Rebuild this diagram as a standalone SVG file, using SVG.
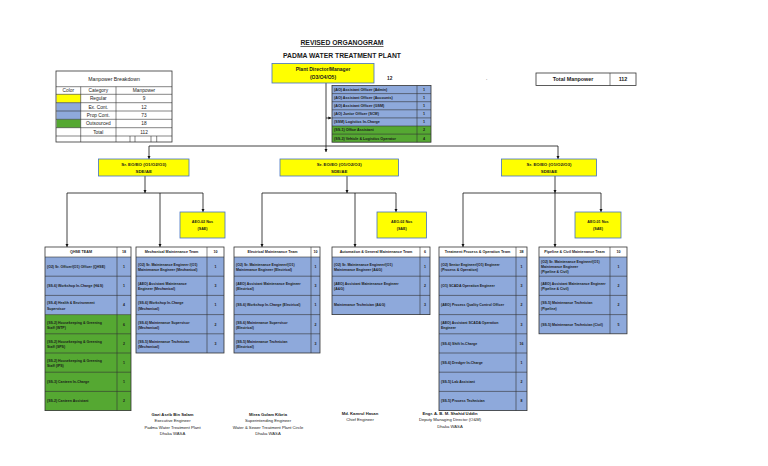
<svg xmlns="http://www.w3.org/2000/svg" width="768" height="466" viewBox="0 0 768 466">
<defs>
<style>
text{font-family:"Liberation Sans",Arial,sans-serif;fill:#1a1a1a}
.t{font-size:3.5px;font-weight:bold}
.h{font-size:3.7px;font-weight:bold}
.a{font-size:3.7px;font-weight:bold}
.m{font-size:4.8px}
.s{font-size:4.2px}
.sb{font-size:4.2px;font-weight:bold}
.se{font-size:4.4px;font-weight:bold}
.c{text-anchor:middle}
.ln{stroke:#111;stroke-width:0.8;fill:none}
.ar{marker-end:url(#ah)}
.y{fill:#FFFF00;stroke:#4472C4;stroke-width:0.8}
.b{fill:#8EA9DB}
.g{fill:#55A832}
.w{fill:#fff}
.fr{fill:none;stroke:#333;stroke-width:0.8}
.gl{stroke:#333;stroke-width:0.6;fill:none}
</style>
<marker id="ah" viewBox="0 0 6 6" refX="6" refY="3" markerWidth="3.2" markerHeight="3.2" markerUnits="userSpaceOnUse" orient="auto"><path d="M0,0L6,3L0,6z" fill="#111"/></marker>
</defs>
<rect width="768" height="466" fill="#fff"/>

<g id="title">
<text x="342" y="45" class="c" style="font-size:6.8px;font-weight:bold;text-decoration:underline">REVISED ORGANOGRAM</text>
<text x="342" y="58" class="c" style="font-size:6.8px;font-weight:bold">PADMA WATER TREATMENT PLANT</text>
<text x="387" y="79.5" style="font-size:4.8px;font-weight:bold">12</text>
<text x="486" y="79.5" style="font-size:4.8px">.</text>
</g>

<g id="connectors">
<path class="ln ar" d="M326,83V152"/>
<path class="ln ar" d="M326,118H331.5"/>
<path class="ln" d="M149,146H558"/>
<path class="ln ar" d="M149,146V159"/>
<path class="ln ar" d="M558,146V159"/>
<path class="ln ar" d="M145,176V193"/>
<path class="ln" d="M67,193H203"/>
<path class="ln ar" d="M67,193V247"/>
<path class="ln ar" d="M160,193V247"/>
<path class="ln ar" d="M203,193V212"/>
<path class="ln ar" d="M347,176V193"/>
<path class="ln" d="M262,193H396"/>
<path class="ln ar" d="M262,193V247"/>
<path class="ln ar" d="M355,193V247"/>
<path class="ln ar" d="M396,193V212"/>
<path class="ln ar" d="M555,176V193"/>
<path class="ln" d="M463,193H601"/>
<path class="ln ar" d="M463,193V247"/>
<path class="ln ar" d="M555,193V247"/>
<path class="ln ar" d="M601,193V212"/>
</g>

<g id="director">
<rect x="272" y="63.5" width="102" height="19.5" class="y"/>
<text x="323" y="71" class="c" style="font-size:5px;font-weight:bold">Plant Director/Manager</text>
<text x="323" y="79" class="c" style="font-size:5px;font-weight:bold">(O3/O4/O5)</text>
</g>

<g id="manpower-breakdown">
<rect x="56" y="71" width="116" height="71" class="w"/>
<rect x="56.5" y="94.3" width="24.2" height="8.4" fill="#FFFF00"/>
<rect x="56.5" y="102.7" width="24.2" height="8.3" class="b"/>
<rect x="56.5" y="111" width="24.2" height="8.3" class="b"/>
<rect x="56.5" y="119.3" width="24.2" height="8.4" class="g"/>
<rect x="56" y="71" width="116" height="71" class="fr"/>
<path class="gl" d="M56,86.7H172M56,94.3H172M56,102.7H172M56,111H172M56,119.3H172M56,127.7H172M56,136H172M80.7,86.7V142M116,86.7V142M130,136V142M135,136V142M151,136V142M156.7,136V142"/>
<text x="114" y="80.8" class="c" style="font-size:5.2px">Manpower Breakdown</text>
<text x="68.3" y="92.3" class="c m">Color</text>
<text x="98.3" y="92.3" class="c m">Category</text>
<text x="144" y="92.3" class="c m">Manpower</text>
<text x="98.3" y="100.4" class="c m">Regular</text><text x="144" y="100.4" class="c m">9</text>
<text x="98.3" y="108.7" class="c m">Ex. Cont.</text><text x="144" y="108.7" class="c m">12</text>
<text x="98.3" y="117" class="c m">Prop Cont.</text><text x="144" y="117" class="c m">73</text>
<text x="98.3" y="125.4" class="c m">Outsourced</text><text x="144" y="125.4" class="c m">18</text>
<text x="98.3" y="133.7" class="c m">Total</text><text x="144" y="133.7" class="c m">112</text>
</g>

<g id="admin-staff">
<rect x="332" y="85.5" width="99" height="40.5" class="b"/>
<rect x="332" y="126" width="99" height="16.2" class="g"/>
<rect x="332" y="85.5" width="99" height="56.7" class="fr"/>
<path class="gl" d="M332,93.6H431M332,101.7H431M332,109.8H431M332,117.9H431M332,126H431M332,134.1H431M417,85.5V142.2"/>
<text x="334" y="90.9" class="a">(AO) Assistant Officer (Admin)</text><text x="424" y="90.9" class="a c">1</text>
<text x="334" y="99" class="a">(AO) Assistant Officer (Accounts)</text><text x="424" y="99" class="a c">1</text>
<text x="334" y="107.1" class="a">(AO) Assistant Officer (GSM)</text><text x="424" y="107.1" class="a c">1</text>
<text x="334" y="115.2" class="a">(AO) Junior Officer (SCM)</text><text x="424" y="115.2" class="a c">1</text>
<text x="334" y="123.3" class="a">(SSM) Logistics In-Charge</text><text x="424" y="123.3" class="a c">1</text>
<text x="334" y="131.4" class="a">(SS-1) Office Assistant</text><text x="424" y="131.4" class="a c">2</text>
<text x="334" y="139.5" class="a">(SS-3) Vehicle &amp; Logistics Operator</text><text x="424" y="139.5" class="a c">4</text>
</g>

<g id="total-manpower">
<rect x="536" y="73" width="100" height="12.5" class="w"/>
<rect x="536" y="73" width="100" height="12.5" class="fr"/>
<path class="gl" d="M610,73V85.5"/>
<text x="573" y="81.2" class="c" style="font-size:5.4px;font-weight:bold">Total Manpower</text>
<text x="623" y="81.2" class="c" style="font-size:5.4px;font-weight:bold">112</text>
</g>

<g id="se-left">
<rect x="98.5" y="159" width="90.5" height="17" class="y"/>
<text x="143.7" y="166" class="c se">Sr. EO/EO (O1/O2/O3)</text>
<text x="143.7" y="172.8" class="c se">SDE/AE</text>
</g>
<g id="se-middle">
<rect x="280" y="159" width="118.5" height="17" class="y"/>
<text x="339.2" y="166" class="c se">Sr. EO/EO (O1/O2/O3)</text>
<text x="339.2" y="172.8" class="c se">SDE/AE</text>
</g>
<g id="se-right">
<rect x="501.5" y="159" width="95" height="17" class="y"/>
<text x="549" y="166" class="c se">Sr. EO/EO (O1/O2/O3)</text>
<text x="549" y="172.8" class="c se">SDE/AE</text>
</g>

<g id="aeo-left">
<rect x="180" y="212" width="45" height="26" class="y"/>
<text x="202.5" y="223" class="c h">AEO-02 Nos</text>
<text x="202.5" y="229.8" class="c h">(SAE)</text>
</g>
<g id="aeo-middle">
<rect x="377" y="212" width="49.5" height="26" class="y"/>
<text x="401.7" y="223" class="c h">AEO-02 Nos</text>
<text x="401.7" y="229.8" class="c h">(SAE)</text>
</g>
<g id="aeo-right">
<rect x="575" y="212" width="46" height="26" class="y"/>
<text x="598" y="223" class="c h">AEO-01 Nos</text>
<text x="598" y="229.8" class="c h">(SAE)</text>
</g>

<g id="qhse-team">
<rect x="45" y="247" width="86" height="10" class="w"/>
<rect x="45" y="257" width="86" height="57.6" class="b"/>
<rect x="45" y="314.6" width="86" height="96" class="g"/>
<rect x="45" y="247" width="86" height="163.6" class="fr"/>
<path class="gl" d="M45,257H131M45,276.2H131M45,295.4H131M45,314.6H131M45,333.8H131M45,353H131M45,372.2H131M45,391.4H131M117,247V410.6"/>
<text x="81" y="253.4" class="c h">QHSE TEAM</text><text x="124" y="253.4" class="c h">18</text>
<text x="47" y="268" class="t">(O2) Sr. Officer/(O1) Officer (QHSE)</text><text x="124" y="268" class="c t">1</text>
<text x="47" y="287.2" class="t">(SS-6) Workshop In-Charge (H&amp;S)</text><text x="124" y="287.2" class="c t">1</text>
<text x="47" y="304.4" class="t">(SS-4) Health &amp; Environment</text><text x="47" y="309.6" class="t">Supervisor</text><text x="124" y="306.4" class="c t">4</text>
<text x="47" y="323.6" class="t">(SS-2) Housekeeping &amp; Greening</text><text x="47" y="328.8" class="t">Staff (WTP)</text><text x="124" y="325.6" class="c t">6</text>
<text x="47" y="342.8" class="t">(SS-2) Housekeeping &amp; Greening</text><text x="47" y="348" class="t">Staff (SPS)</text><text x="124" y="344.8" class="c t">2</text>
<text x="47" y="362" class="t">(SS-2) Housekeeping &amp; Greening</text><text x="47" y="367.2" class="t">Staff (IPS)</text><text x="124" y="364" class="c t">1</text>
<text x="47" y="383.2" class="t">(SS-3) Canteen In-Charge</text><text x="124" y="383.2" class="c t">1</text>
<text x="47" y="402.4" class="t">(SS-2) Canteen Assistant</text><text x="124" y="402.4" class="c t">2</text>
</g>

<g id="mechanical-team">
<rect x="136" y="247" width="88" height="10" class="w"/>
<rect x="136" y="257" width="88" height="96" class="b"/>
<rect x="136" y="247" width="88" height="106" class="fr"/>
<path class="gl" d="M136,257H224M136,276.2H224M136,295.4H224M136,314.6H224M136,333.8H224M207,247V353"/>
<text x="171.5" y="253.4" class="c h">Mechanical Maintenance Team</text><text x="215.5" y="253.4" class="c h">10</text>
<text x="138" y="266" class="t">(O2) Sr. Maintenance Engineer /(O1)</text><text x="138" y="271.2" class="t">Maintenance Engineer (Mechanical)</text><text x="215.5" y="268" class="c t">1</text>
<text x="138" y="285.2" class="t">(AEO) Assistant Maintenance</text><text x="138" y="290.4" class="t">Engineer (Mechanical)</text><text x="215.5" y="287.2" class="c t">3</text>
<text x="138" y="304.4" class="t">(SS-6) Workshop In-Charge</text><text x="138" y="309.6" class="t">(Mechanical)</text><text x="215.5" y="306.4" class="c t">1</text>
<text x="138" y="323.6" class="t">(SS-6) Maintenance Supervisor</text><text x="138" y="328.8" class="t">(Mechanical)</text><text x="215.5" y="325.6" class="c t">2</text>
<text x="138" y="342.8" class="t">(SS-5) Maintenance Technician</text><text x="138" y="348" class="t">(Mechanical)</text><text x="215.5" y="344.8" class="c t">3</text>
</g>

<g id="electrical-team">
<rect x="234" y="247" width="86" height="10" class="w"/>
<rect x="234" y="257" width="86" height="96" class="b"/>
<rect x="234" y="247" width="86" height="106" class="fr"/>
<path class="gl" d="M234,257H320M234,276.2H320M234,295.4H320M234,314.6H320M234,333.8H320M311,247V353"/>
<text x="272.5" y="253.4" class="c h">Electrical Maintenance Team</text><text x="315.5" y="253.4" class="c h">10</text>
<text x="236" y="266" class="t">(O2) Sr. Maintenance Engineer/(O1)</text><text x="236" y="271.2" class="t">Maintenance Engineer (Electrical)</text><text x="315.5" y="268" class="c t">1</text>
<text x="236" y="285.2" class="t">(AEO) Assistant Maintenance Engineer</text><text x="236" y="290.4" class="t">(Electrical)</text><text x="315.5" y="287.2" class="c t">3</text>
<text x="236" y="306.4" class="t">(SS-6) Workshop In-Charge (Electrical)</text><text x="315.5" y="306.4" class="c t">1</text>
<text x="236" y="323.6" class="t">(SS-6) Maintenance Supervisor</text><text x="236" y="328.8" class="t">(Electrical)</text><text x="315.5" y="325.6" class="c t">2</text>
<text x="236" y="342.8" class="t">(SS-5) Maintenance Technician</text><text x="236" y="348" class="t">(Electrical)</text><text x="315.5" y="344.8" class="c t">3</text>
</g>

<g id="automation-team">
<rect x="332" y="247" width="98" height="10" class="w"/>
<rect x="332" y="257" width="98" height="57.6" class="b"/>
<rect x="332" y="247" width="98" height="67.6" class="fr"/>
<path class="gl" d="M332,257H430M332,276.2H430M332,295.4H430M420,247V314.6"/>
<text x="376" y="253.4" class="c h">Automation &amp; General Maintenance Team</text><text x="425" y="253.4" class="c h">6</text>
<text x="334" y="266" class="t">(O2) Sr. Maintenance Engineer/(O1)</text><text x="334" y="271.2" class="t">Maintenance Engineer (A&amp;G)</text><text x="425" y="268" class="c t">1</text>
<text x="334" y="285.2" class="t">(AEO) Assistant Maintenance Engineer</text><text x="334" y="290.4" class="t">(A&amp;G)</text><text x="425" y="287.2" class="c t">2</text>
<text x="334" y="306.4" class="t">Maintenance Technician (A&amp;G)</text><text x="425" y="306.4" class="c t">3</text>
</g>

<g id="treatment-team">
<rect x="439" y="247" width="88" height="10" class="w"/>
<rect x="439" y="257" width="88" height="153.6" class="b"/>
<rect x="439" y="247" width="88" height="163.6" class="fr"/>
<path class="gl" d="M439,257H527M439,276.2H527M439,295.4H527M439,314.6H527M439,333.8H527M439,353H527M439,372.2H527M439,391.4H527M516,247V410.6"/>
<text x="477.5" y="253.4" class="c h">Treatment Process &amp; Operation Team</text><text x="521.5" y="253.4" class="c h">38</text>
<text x="441" y="266" class="t">(O2) Senior Engineer/(O1) Engineer</text><text x="441" y="271.2" class="t">(Process &amp; Operation)</text><text x="521.5" y="268" class="c t">1</text>
<text x="441" y="287.2" class="t">(O1) SCADA Operation Engineer</text><text x="521.5" y="287.2" class="c t">3</text>
<text x="441" y="306.4" class="t">(AEO) Process Quality Control Officer</text><text x="521.5" y="306.4" class="c t">2</text>
<text x="441" y="323.6" class="t">(AEO) Assistant SCADA Operation</text><text x="441" y="328.8" class="t">Engineer</text><text x="521.5" y="325.6" class="c t">3</text>
<text x="441" y="344.8" class="t">(SS-6) Shift In-Charge</text><text x="521.5" y="344.8" class="c t">16</text>
<text x="441" y="364" class="t">(SS-6) Dredger In-Charge</text><text x="521.5" y="364" class="c t">1</text>
<text x="441" y="383.2" class="t">(SS-5) Lab Assistant</text><text x="521.5" y="383.2" class="c t">2</text>
<text x="441" y="402.4" class="t">(SS-5) Process Technician</text><text x="521.5" y="402.4" class="c t">8</text>
</g>

<g id="pipeline-team">
<rect x="539" y="247" width="88" height="10" class="w"/>
<rect x="539" y="257" width="88" height="76.8" class="b"/>
<rect x="539" y="247" width="88" height="86.8" class="fr"/>
<path class="gl" d="M539,257H627M539,276.2H627M539,295.4H627M539,314.6H627M610,247V333.8"/>
<text x="574.5" y="253.4" class="c h">Pipeline &amp; Civil Maintenance Team</text><text x="618.5" y="253.4" class="c h">10</text>
<text x="541" y="263" class="t">(O2) Sr. Maintenance Engineer/(O1)</text><text x="541" y="268.2" class="t">Maintenance Engineer</text><text x="541" y="273.4" class="t">(Pipeline &amp; Civil)</text><text x="618.5" y="268" class="c t">1</text>
<text x="541" y="285.2" class="t">(AEO) Assistant Maintenance Engineer</text><text x="541" y="290.4" class="t">(Pipeline &amp; Civil)</text><text x="618.5" y="287.2" class="c t">2</text>
<text x="541" y="304.4" class="t">(SS-5) Maintenance Technician</text><text x="541" y="309.6" class="t">(Pipeline)</text><text x="618.5" y="306.4" class="c t">2</text>
<text x="541" y="325.6" class="t">(SS-5) Maintenance Technician (Civil)</text><text x="618.5" y="325.6" class="c t">5</text>
</g>

<g id="signatures">
<text x="172.5" y="415.5" class="c sb">Gazi Asrib Bin Salam</text>
<text x="172.5" y="422" class="c s">Executive Engineer</text>
<text x="172.5" y="428.5" class="c s">Padma Water Treatment Plant</text>
<text x="172.5" y="435" class="c s">Dhaka WASA</text>
<text x="268" y="415.5" class="c sb">Mirza Golam Kibria</text>
<text x="268" y="422" class="c s">Superintending Engineer</text>
<text x="268" y="428.5" class="c s">Water &amp; Sewer Treatment Plant Circle</text>
<text x="268" y="435" class="c s">Dhaka WASA</text>
<text x="360" y="414.5" class="c sb">Md. Kamrul Hasan</text>
<text x="360" y="421" class="c s">Chief Engineer</text>
<text x="450" y="414.5" class="c sb">Engr. A. B. M. Shahid Uddin</text>
<text x="450" y="421" class="c s">Deputy Managing Director (O&amp;M)</text>
<text x="450" y="427.5" class="c s">Dhaka WASA</text>
</g>
</svg>
